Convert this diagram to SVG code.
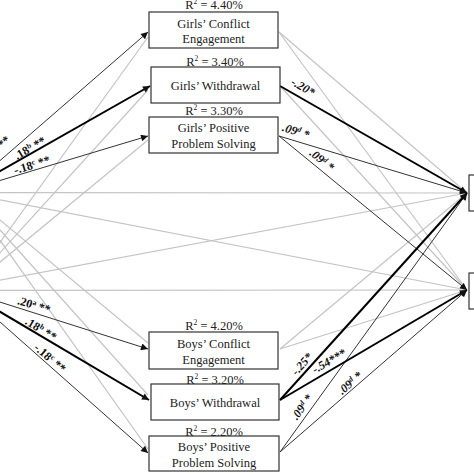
<svg xmlns="http://www.w3.org/2000/svg" width="474" height="474" viewBox="0 0 474 474">
<style>
.bx{fill:#fff;stroke:#333;stroke-width:1.2}
.t{font-family:"Liberation Serif","Times New Roman",serif;font-size:12.5px;fill:#222;text-anchor:middle}
.lb{font-family:"Liberation Serif","Times New Roman",serif;font-size:12px;font-weight:bold;fill:#111;text-anchor:middle}
.it{font-style:italic}
.g{stroke:#c4c4c4;stroke-width:1.2;fill:none}
.d{stroke:#333;stroke-width:1;fill:none;marker-end:url(#ah)}
.k{stroke:#000;stroke-width:2;fill:none;marker-end:url(#ah)}
.sp{font-size:7.5px}
</style>
<defs>
<marker id="ah" viewBox="0 0 10 10" refX="10" refY="5" markerWidth="9" markerHeight="7" markerUnits="userSpaceOnUse" orient="auto"><path d="M0,0 L10,5 L0,10 z" fill="#111"/></marker>
</defs>
<rect width="474" height="474" fill="#fff"/>
<g id="connectors">
<!-- gray cross paths -->
<line class="g" x1="-35" y1="191" x2="148" y2="343"/>
<line class="g" x1="-35" y1="191" x2="148" y2="395"/>
<line class="g" x1="-35" y1="191" x2="148" y2="449"/>
<line class="g" x1="-35" y1="291" x2="148" y2="37"/>
<line class="g" x1="-35" y1="291" x2="148" y2="90"/>
<line class="g" x1="-35" y1="291" x2="148" y2="140"/>
<line class="g" x1="-10" y1="192.7" x2="467" y2="193"/>
<line class="g" x1="-10" y1="198" x2="467" y2="290"/>
<line class="g" x1="-10" y1="282" x2="467" y2="193"/>
<line class="g" x1="-10" y1="290.3" x2="467" y2="290"/>
<line class="g" x1="279" y1="32" x2="467" y2="193"/>
<line class="g" x1="279" y1="32" x2="467" y2="290"/>
<line class="g" x1="280" y1="86" x2="467" y2="290"/>
<line class="g" x1="280" y1="349" x2="467" y2="193"/>
<line class="g" x1="280" y1="349" x2="467" y2="290"/>
<!-- dark thin -->
<line class="d" x1="-35" y1="191" x2="148" y2="32"/>
<line class="d" x1="-35" y1="191" x2="148" y2="136"/>
<line class="d" x1="-35" y1="291" x2="148" y2="349"/>
<line class="d" x1="-35" y1="291" x2="148" y2="453"/>
<line class="d" x1="279" y1="136" x2="467" y2="193"/>
<line class="d" x1="279" y1="136" x2="467" y2="290"/>
<line class="d" x1="280" y1="452" x2="467" y2="193"/>
<line class="d" x1="280" y1="452" x2="467" y2="290"/>
<!-- thick -->
<line class="k" x1="-35" y1="191" x2="150" y2="86"/>
<line class="k" x1="-35" y1="291" x2="149" y2="400"/>
<line class="k" x1="280" y1="86" x2="467" y2="193"/>
<line class="k" x1="280" y1="400" x2="467" y2="193"/>
<line class="k" x1="280" y1="400" x2="467" y2="290"/>
</g>
<g id="labels">
<text class="lb" x="11" y="141" text-anchor="end" style="text-anchor:end" transform="rotate(-41 11 141)">.20<tspan class="sp" dy="-4">a</tspan><tspan dy="4"> **</tspan></text>
<text class="lb" x="30" y="152" transform="rotate(-30 30 148)">.18<tspan class="sp" dy="-4">b</tspan><tspan dy="4"> **</tspan></text>
<text class="lb" x="32" y="169" transform="rotate(-17 32 165)">-.18<tspan class="sp" dy="-4">c</tspan><tspan dy="4"> **</tspan></text>
<text class="lb" x="34" y="309" transform="rotate(17 34 305)">.20<tspan class="sp" dy="-4">a</tspan><tspan dy="4"> **</tspan></text>
<text class="lb" x="41" y="333" transform="rotate(31 41 329)">.18<tspan class="sp" dy="-4">b</tspan><tspan dy="4"> **</tspan></text>
<text class="lb" x="50" y="362" transform="rotate(41 50 358)">-.18<tspan class="sp" dy="-4">c</tspan><tspan dy="4"> **</tspan></text>
<text class="lb it" x="303" y="91" transform="rotate(30 303 87)">-.20*</text>
<text class="lb it" x="296" y="135" transform="rotate(17 296 131)">.09<tspan class="sp" dy="-4">d</tspan><tspan dy="4"> *</tspan></text>
<text class="lb it" x="322" y="164" transform="rotate(39 322 160)">.09<tspan class="sp" dy="-4">d</tspan><tspan dy="4"> *</tspan></text>
<text class="lb it" x="302" y="368" transform="rotate(-48 302 364)">-.25*</text>
<text class="lb it" x="329" y="365" transform="rotate(-30 329 361)">-.54***</text>
<text class="lb it" x="302" y="411" transform="rotate(-54 302 407)">.09<tspan class="sp" dy="-4">d</tspan><tspan dy="4"> *</tspan></text>
<text class="lb it" x="350" y="387" transform="rotate(-41 350 383)">.09<tspan class="sp" dy="-4">d</tspan><tspan dy="4"> *</tspan></text>
</g>
<g id="girls-conflict">
<text class="t" x="214" y="8.5">R<tspan class="sp" dy="-5">2</tspan><tspan dy="5"> = 4.40%</tspan></text>
<rect class="bx" x="149" y="12" width="129" height="36"/>
<text class="t" x="213.5" y="27.5">Girls’ Conflict</text>
<text class="t" x="213.5" y="42.5">Engagement</text>
</g>
<g id="girls-withdrawal">
<text class="t" x="215" y="65.5">R<tspan class="sp" dy="-5">2</tspan><tspan dy="5"> = 3.40%</tspan></text>
<rect class="bx" x="151" y="67" width="129" height="36"/>
<text class="t" x="215.5" y="89.5">Girls’ Withdrawal</text>
</g>
<g id="girls-pps">
<text class="t" x="214" y="115">R<tspan class="sp" dy="-5">2</tspan><tspan dy="5"> = 3.30%</tspan></text>
<rect class="bx" x="149" y="117" width="129" height="36"/>
<text class="t" x="213.5" y="132">Girls’ Positive</text>
<text class="t" x="213.5" y="148">Problem Solving</text>
</g>
<g id="boys-conflict">
<text class="t" x="214" y="330">R<tspan class="sp" dy="-5">2</tspan><tspan dy="5"> = 4.20%</tspan></text>
<rect class="bx" x="149" y="332" width="129" height="37"/>
<text class="t" x="213.5" y="347.5">Boys’ Conflict</text>
<text class="t" x="213.5" y="363.5">Engagement</text>
</g>
<g id="boys-withdrawal">
<text class="t" x="215" y="383.5">R<tspan class="sp" dy="-5">2</tspan><tspan dy="5"> = 3.20%</tspan></text>
<rect class="bx" x="151" y="384" width="128" height="36"/>
<text class="t" x="215" y="407">Boys’ Withdrawal</text>
</g>
<g id="boys-pps">
<text class="t" x="214" y="436">R<tspan class="sp" dy="-5">2</tspan><tspan dy="5"> = 2.20%</tspan></text>
<rect class="bx" x="149" y="436" width="130" height="35"/>
<text class="t" x="214" y="451">Boys’ Positive</text>
<text class="t" x="214" y="467">Problem Solving</text>
</g>
<g id="right-top">
<rect class="bx" x="469" y="175" width="20" height="36"/>
</g>
<g id="right-bottom">
<rect class="bx" x="469" y="273" width="20" height="36"/>
</g>
</svg>
